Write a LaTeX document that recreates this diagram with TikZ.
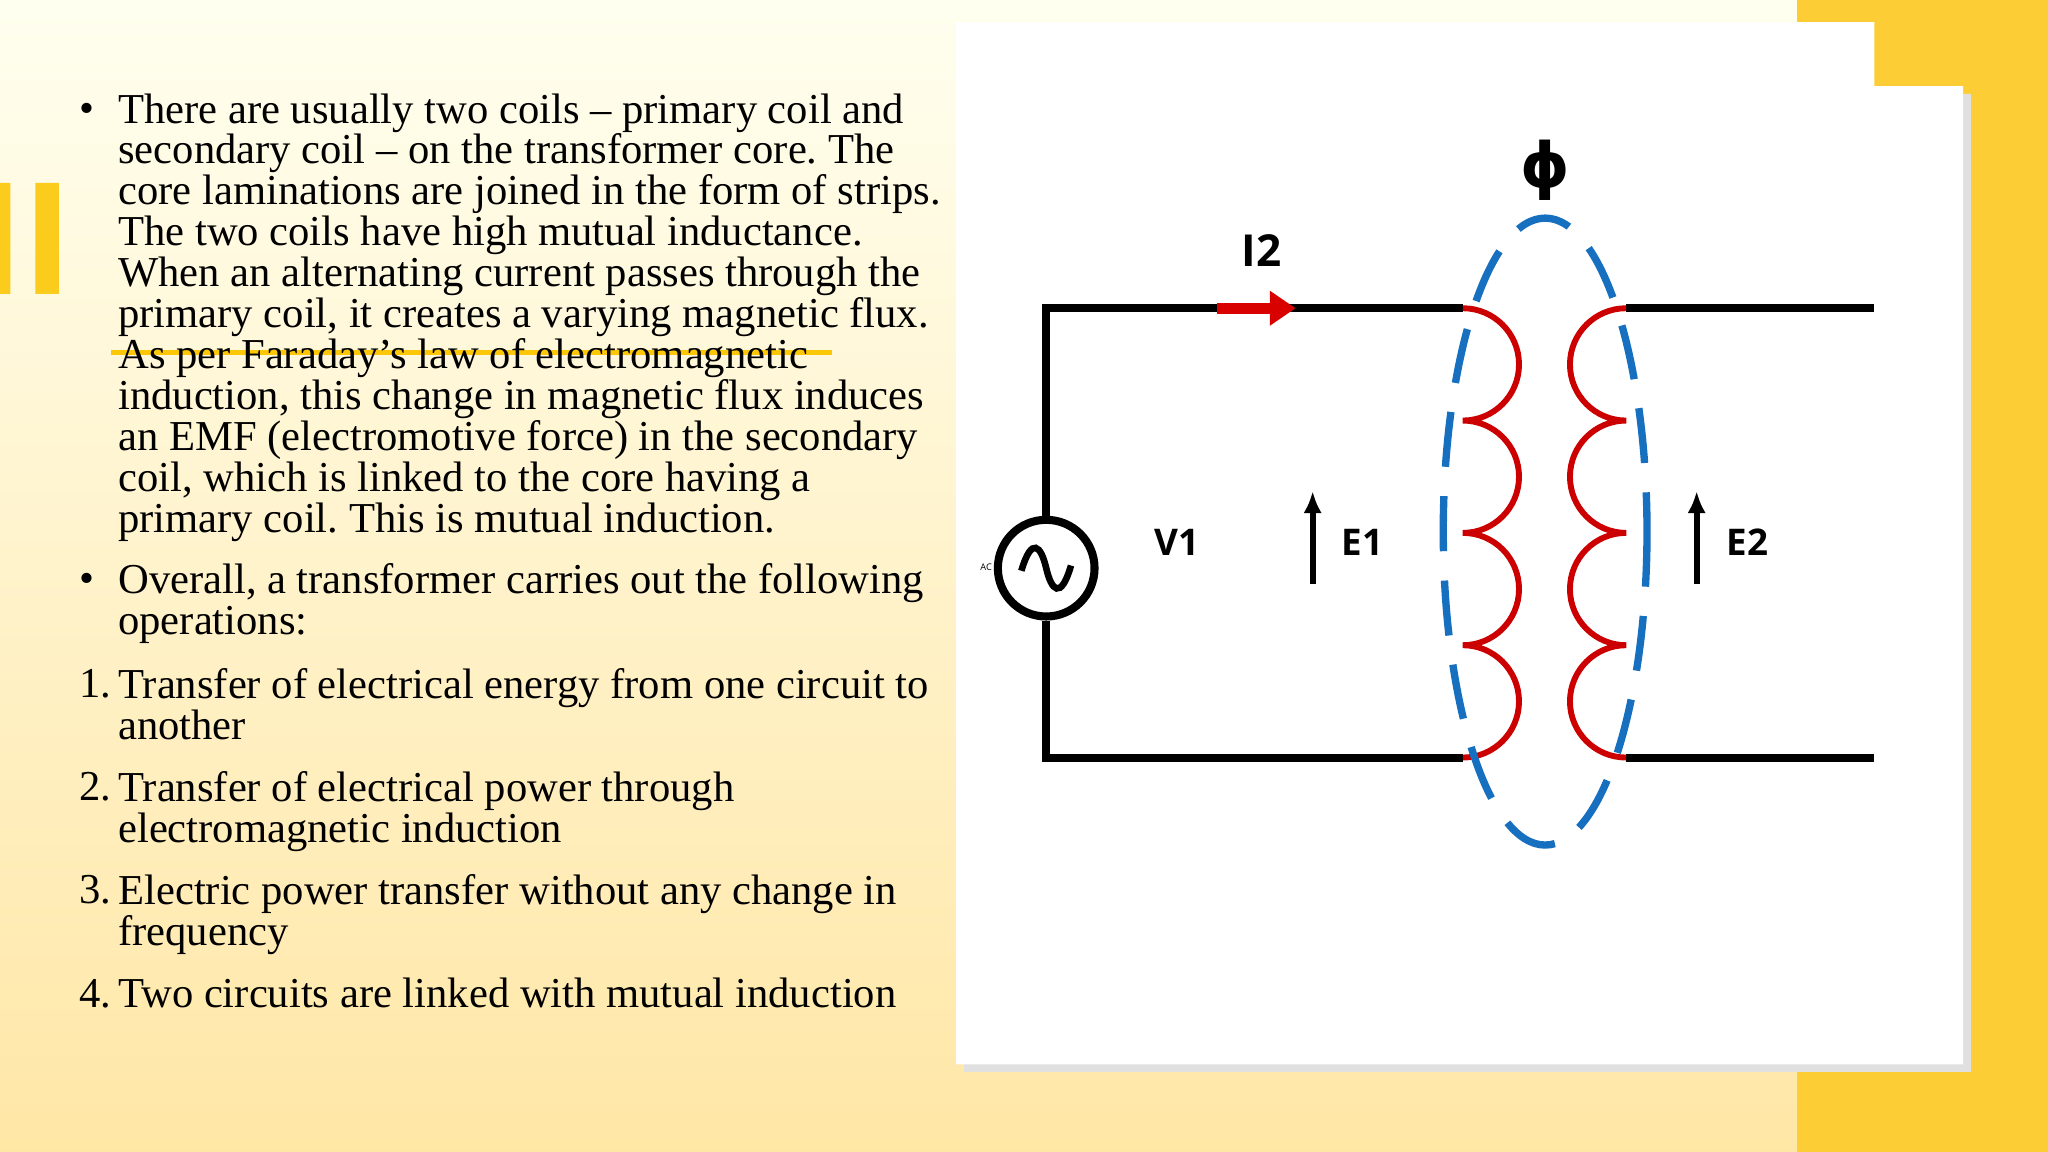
\documentclass[tikz,border=0pt]{standalone}
\usepackage{fontspec}
\setmainfont{Liberation Serif}
\setsansfont{Open Sans}
\newfontfamily\dejavu{DejaVu Sans}
\usetikzlibrary{arrows.meta}
\frenchspacing
\begin{document}
\begin{tikzpicture}[x=0.0125cm,y=-0.0125cm,
  wire/.style={line width=2.2pt,black},
  coil/.style={line width=1.6pt,red!80!black},
  para/.style={anchor=north west,align=left,inner sep=0pt,font=\fontsize{11.6}{11.15}\selectfont},
  itemmark/.style={anchor=base west,inner sep=0pt,font=\fontsize{11.6}{11.15}\selectfont},
  lbl/.style={font=\sffamily\bfseries\fontsize{10}{12}\selectfont},
  emf/.style={line width=1.6pt,-{Latex[length=6pt,width=5pt]}}]
  \useasboundingbox (0,0) rectangle (1568,882);
  % background
  \shade[top color=yellow!6!white,bottom color=yellow!45!orange!35!white] (0,0) rectangle (1376,882);
  \fill[yellow!55!orange!80!white] (1376,0) rectangle (1568,882);
  \fill[yellow!60!orange!90!white] (0,140) rectangle (8,225) (27,140) rectangle (45,225);
  \fill[black!12] (738,72) rectangle (1509,821);
  \fill[white] (732,17) rectangle (1435,66) (732,66) rectangle (1503,815);
  % text
  \draw[yellow!60!orange,line width=1.5pt] (85,270) -- (637,270);
  \node[para] (p1) at (90,71) {There are usually two coils -- primary coil and\\secondary coil -- on the transformer core. The\\core laminations are joined in the form of strips.\\The two coils have high mutual inductance.\\When an alternating current passes through the\\primary coil, it creates a varying magnetic flux.\\As per Faraday’s law of electromagnetic\\induction, this change in magnetic flux induces\\an EMF (electromotive force) in the secondary\\coil, which is linked to the core having a\\primary coil. This is mutual induction.};
  \node[itemmark] at (60,94) {\textbullet};
  \node[para] (p2) at (90,431) {Overall, a transformer carries out the following\\operations:};
  \node[itemmark] at (60,454) {\textbullet};
  \foreach \n/\y/\t in {1/511/{Transfer of electrical energy from one circuit to\\another},
                        2/590/{Transfer of electrical power through\\electromagnetic induction},
                        3/669/{Electric power transfer without any change in\\frequency},
                        4/748/{Two circuits are linked with mutual induction}}{
    \node[itemmark] at (60,\y+23) {\n.};
    \node[para] (i\n) at (90,\y) {\t};
  }
  % circuit
  \node[draw,circle,line width=2.2pt,minimum size=0.925cm,inner sep=0pt] (src) at (801,435) {};
  \draw[line width=1.8pt] (782,437) .. controls (790,410) and (797,418) .. (801,435) .. controls (805,452) and (812,460) .. (820,433);
  \node[font=\sffamily\fontsize{2.5}{3}\selectfont] (ac) at (755,434) {AC};
  \coordinate (pt) at (1120,236);
  \coordinate (pb) at (1120,580);
  \coordinate (st) at (1245,236);
  \coordinate (sb) at (1245,580);
  \draw[wire] (src.north) |- (pt);
  \draw[wire] (src.south) |- (pb);
  \draw[wire] (st) -- (1435,236);
  \draw[wire] (sb) -- (1435,580);
  \draw[coil] (pt) \foreach \k in {1,...,4}{ arc[start angle=-90,end angle=90,radius=43] };
  \draw[coil] (st) \foreach \k in {1,...,4}{ arc[start angle=-90,end angle=-270,radius=43] };
  \draw[cyan!50!blue,line width=2pt,dash pattern=on 15pt off 8pt] (1183,407) ellipse [x radius=78,y radius=240];
  \draw[red!85!black,line width=3pt,-{Triangle[length=7pt,width=9pt]}] (932,236) -- (992,236);
  \node[font=\dejavu\bfseries\fontsize{17}{18}\selectfont] (phi) at (1183,130) {ϕ};
  \node[lbl,font=\sffamily\bfseries\fontsize{12}{14}\selectfont] (i2) at (966,192) {I2};
  \node[lbl] (v1) at (901,415) {V1};
  \coordinate (e1b) at (1005,447);
  \coordinate (e1t) at (1005,376);
  \draw[emf] (e1b) -- (e1t);
  \node[lbl] (e1) at (1043,415) {E1};
  \coordinate (e2b) at (1299,447);
  \coordinate (e2t) at (1299,376);
  \draw[emf] (e2b) -- (e2t);
  \node[lbl] (e2) at (1338,415) {E2};
\end{tikzpicture}
\end{document}
